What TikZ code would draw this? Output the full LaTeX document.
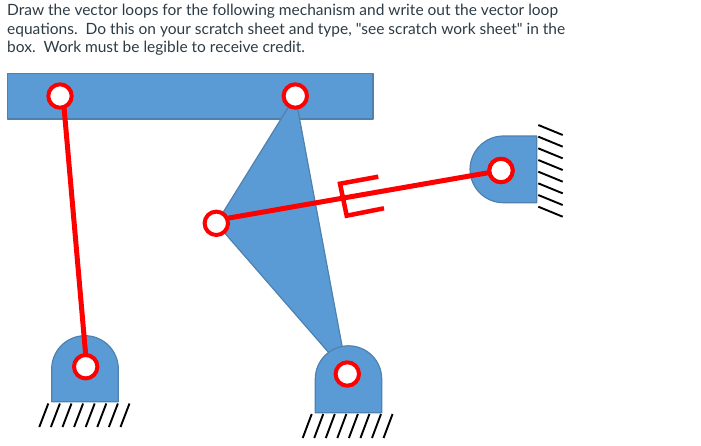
\documentclass[tikz,border=0pt]{standalone}
\usepackage{fontspec}
\setmainfont{Lato}[Ligatures=TeXOff]
\definecolor{barfill}{HTML}{5B9BD5}
\definecolor{barline}{HTML}{4F81AE}
\definecolor{linkred}{HTML}{FF0000}
\definecolor{txt}{HTML}{2D3B45}
\tikzset{
  part/.style={fill=barfill,draw=barline,line width=1.2pt,line join=round},
  pin/.style={circle,draw=linkred,fill=white,line width=4pt,minimum size=23.4pt,inner sep=0pt,outer sep=0pt},
  redlink/.style={draw=linkred,line width=5pt},
  fork/.style={draw=linkred,line width=4.5pt,line join=miter},
  hatch/.style={draw=black,line width=1.9pt},
}
\begin{document}
\begin{tikzpicture}[x=1pt,y=-1pt]
\useasboundingbox (0,0) rectangle (701,445);
% prompt text
\node[anchor=north west,inner sep=0pt,align=left,text=txt,
      font=\fontsize{15.5}{18.5}\selectfont] (prompt) at (7,4)
  {Draw the vector loops for the following mechanism and write out the vector loop\\
   equations.\ \ Do this on your scratch sheet and type, "see scratch work sheet" in the\\
   box.\ \ Work must be legible to receive credit.};
% frame bar
\draw[part] (7.5,73.5) rectangle (373,119);
% ternary link
\draw[part] (295.3,96) -- (216.3,223.3) -- (347.3,374) -- cycle;
% ground bases
\draw[part] (51.7,401.7) -- (51.7,369) arc[start angle=180,end angle=360,radius=33.3] -- (118.3,401.7) -- cycle;
\draw[part] (315.3,412.7) -- (315.3,379) arc[start angle=180,end angle=360,radius=33.2] -- (381.7,412.7) -- cycle;
\draw[part] (536.7,136) -- (503.4,136) arc[start angle=270,end angle=90,radius=33.35] -- (536.7,202.7) -- cycle;
% hatching
\foreach \i in {0,...,7}{
  \draw[hatch] ({48.3+11.6*\i},403.5) -- ({39.3+11.6*\i},427);
  \draw[hatch] ({311.7+11.55*\i},414) -- ({302.7+11.55*\i},438);
  \draw[hatch] (538.3,{125+11.67*\i}) -- (562.7,{135+11.67*\i});
}
% pins
\node[pin] (a) at (60,96) {};
\node[pin] (b) at (295.3,96) {};
\node[pin] (c) at (216.3,223.3) {};
\node[pin] (d) at (501,170.5) {};
\node[pin] (e) at (85.7,366.7) {};
\node[pin] (f) at (347.3,374) {};
% links
\draw[redlink] (a.-70) -- (e.north);
\draw[redlink] (c.25) -- (d);
\node[pin] at (d) {};
% slider fork
\coordinate (f1) at (378.3,176.7);
\coordinate (f2) at (340,183.7);
\coordinate (f3) at (346.7,215.7);
\coordinate (f4) at (384,208.3);
\draw[fork] (f1) -- (f2) -- (f3) -- (f4);
\end{tikzpicture}
\end{document}
